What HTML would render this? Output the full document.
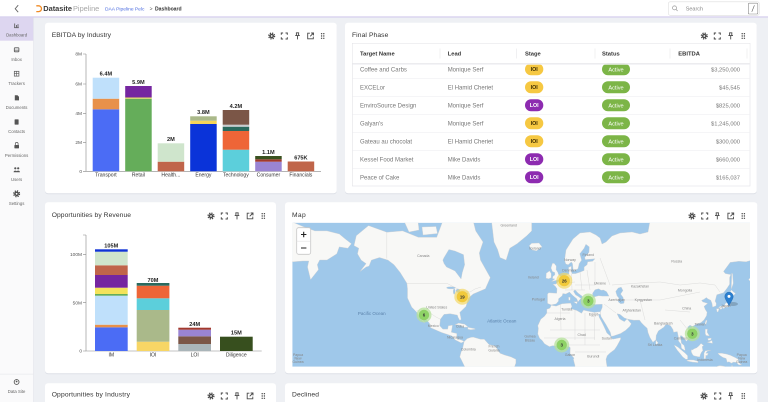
<!DOCTYPE html>
<html><head><meta charset="utf-8">
<style>
html,body{margin:0;padding:0;background:#eef0f4;overflow:hidden;}
svg{display:block;font-family:"Liberation Sans",Arial,sans-serif;}
text{font-family:"Liberation Sans",Arial,sans-serif;}
</style></head>
<body>
<svg width="768" height="402" viewBox="0 0 768 402" xmlns="http://www.w3.org/2000/svg">
<defs>
  <g id="gear"><circle r="2.9" fill="none" stroke="#4a4a4a" stroke-width="1.3" stroke-dasharray="1.2 1.08"/><circle r="2.3" fill="#4a4a4a"/><circle r="0.9" fill="#fff"/></g>
  <path id="fs" d="M-3,-1.2V-3H-1.2M1.2,-3H3V-1.2M3,1.2V3H1.2M-1.2,3H-3V1.2" stroke="#4a4a4a" stroke-width="1" fill="none"/>
  <path id="pin" d="M-1.6,-3.2H1.6M-1.1,-3.2V-0.6M1.1,-3.2V-0.6M-2.3,-0.4H2.3M0,-0.4V3.4" stroke="#4a4a4a" stroke-width="0.9" fill="none"/>
  <path id="ex" d="M-0.6,-2.8H-2.8V2.8H2.8V0.6M0.6,-3H3V-0.6M3,-3L-0.3,0.3" stroke="#4a4a4a" stroke-width="0.9" fill="none"/>
  <g id="dr" fill="#4a4a4a"><circle cx="-1.1" cy="-2.3" r="0.7"/><circle cx="1.1" cy="-2.3" r="0.7"/><circle cx="-1.1" cy="0" r="0.7"/><circle cx="1.1" cy="0" r="0.7"/><circle cx="-1.1" cy="2.3" r="0.7"/><circle cx="1.1" cy="2.3" r="0.7"/></g>
  <clipPath id="mapclip"><rect x="292.3" y="222.7" width="457.7" height="144"/></clipPath>
</defs>

<!-- background -->
<rect x="0" y="0" width="768" height="402" fill="#eef0f4"/>

<!-- header -->
<rect x="0" y="0" width="768" height="16.6" fill="#ffffff"/>
<rect x="0" y="16.5" width="768" height="0.9" fill="#c9bfe9"/>
<path d="M18.2,5.2L15.2,8.7L18.2,12.2" stroke="#666" stroke-width="0.9" fill="none"/>
<path d="M36.3,5.8H38.6A2.9,2.9 0 0 1 38.6,11.6H36.3" stroke="#f08a24" stroke-width="1.3" fill="none"/>
<text x="43.3" y="11.2" font-size="7.4" font-weight="bold" fill="#3a3a3a" textLength="28.7">Datasite</text>
<text x="73" y="11.2" font-size="7.4" fill="#a8a8a8" textLength="26.3">Pipeline</text>
<text x="105" y="10.5" font-size="4.9" fill="#4a6be0">DAA Pipeline Pelc</text>
<text x="149.6" y="10.5" font-size="5" fill="#555">&gt;</text>
<text x="155" y="10.5" font-size="5.1" font-weight="bold" fill="#333">Dashboard</text>
<!-- search -->
<rect x="668.3" y="1.8" width="91" height="13.5" rx="2" fill="#fff" stroke="#dedede" stroke-width="0.6"/>
<circle cx="674.5" cy="7.9" r="2" fill="none" stroke="#999" stroke-width="0.7"/>
<path d="M676,9.4L677.6,11" stroke="#999" stroke-width="0.7" fill="none"/>
<text x="685.7" y="10.5" font-size="5.5" fill="#888">Search</text>
<rect x="748.3" y="3.2" width="9.5" height="10.8" rx="1" fill="#fff" stroke="#888" stroke-width="0.6"/>
<path d="M754.4,5.3L751.8,11.8" stroke="#555" stroke-width="0.6" fill="none"/>

<!-- sidebar -->
<rect x="0" y="17.4" width="33.3" height="385" fill="#fafafb"/>
<rect x="33.3" y="17.4" width="0.6" height="385" fill="#e4e5ea"/>
<rect x="0" y="17.4" width="33.3" height="23.3" fill="#ddd6f0"/>
<g fill="#555">
  <rect x="14.3" y="23.5" width="0.8" height="4.5"/><rect x="14.3" y="27.3" width="4.5" height="0.8"/><rect x="16" y="25" width="0.8" height="2.3"/><rect x="17.6" y="24.2" width="0.8" height="3.1"/>
  <rect x="14.3" y="47.8" width="4.6" height="4" rx="0.6" fill="none" stroke="#555" stroke-width="0.8"/><rect x="14.3" y="49.8" width="4.6" height="0.7"/>
  <rect x="14.3" y="71.3" width="4.6" height="4.8" fill="none" stroke="#555" stroke-width="0.7"/><rect x="14.3" y="73.4" width="4.6" height="0.6"/><rect x="16.3" y="71.3" width="0.6" height="4.8"/>
  <path d="M14.8,95.3H17.5L19,96.8V100.4H14.8Z"/>
  <rect x="14.6" y="119.4" width="4" height="5.2" rx="0.5"/>
  <rect x="14.4" y="145" width="4.6" height="3.4" rx="0.5"/><path d="M15.3,145V143.8A1.4,1.4 0 0 1 18.1,143.8V145" stroke="#555" stroke-width="0.7" fill="none"/>
  <circle cx="15.3" cy="168.3" r="1.1"/><circle cx="18.2" cy="168.3" r="1.1"/><path d="M13.6,172.3A1.7,1.7 0 0 1 17,172.3ZM16.5,172.3A1.7,1.7 0 0 1 19.9,172.3Z"/>
</g>
<use href="#gear" x="16.6" y="193.8"/>
<g font-size="4.3" fill="#666" text-anchor="middle">
  <text x="16.6" y="36.5">Dashboard</text>
  <text x="16.6" y="60.8">Inbox</text>
  <text x="16.6" y="84.8">Trackers</text>
  <text x="16.6" y="108.8">Documents</text>
  <text x="16.6" y="132.8">Contacts</text>
  <text x="16.6" y="156.8">Permissions</text>
  <text x="16.6" y="180.8">Users</text>
  <text x="16.6" y="204.8">Settings</text>
  <text x="16.6" y="393.2">Data Site</text>
</g>
<rect x="0" y="373.8" width="33.3" height="0.6" fill="#e4e5ea"/>
<circle cx="16.6" cy="382" r="2.4" fill="none" stroke="#555" stroke-width="0.9"/>
<circle cx="16.6" cy="381.5" r="0.9" fill="#555"/>

<!-- ===== Panel: EBITDA by Industry ===== -->
<rect x="45" y="23.7" width="291.7" height="170.6" rx="3" fill="#dde0e7"/>
<rect x="45" y="22.7" width="291.7" height="170.6" rx="3" fill="#ffffff"/>
<text x="51.7" y="36.8" font-size="6.7" fill="#333" textLength="59.3">EBITDA by Industry</text>
<use href="#gear" x="271.7" y="36"/><use href="#fs" x="284.3" y="36"/><use href="#pin" x="297.5" y="36"/><use href="#ex" x="310.5" y="36"/><use href="#dr" x="322.7" y="36"/>
<g stroke="#888" stroke-width="0.6" fill="none">
  <path d="M86,54V171.3H321"/>
  <path d="M83,54H86M83,84H86M83,113.3H86M83,142.3H86M83,171.3H86"/>
</g>
<g font-size="4.8" fill="#555" text-anchor="end">
  <text x="82" y="55.7">8M</text><text x="82" y="85.7">6M</text><text x="82" y="115">4M</text><text x="82" y="144">2M</text><text x="82" y="173">0</text>
</g>
<g>
  <rect x="92.7" y="109.3" width="26.5" height="62" fill="#4b6cf5"/>
  <rect x="92.7" y="98.7" width="26.5" height="10.6" fill="#e8914a"/>
  <rect x="92.7" y="77.7" width="26.5" height="21" fill="#bfe0fb"/>

  <rect x="125.2" y="98.7" width="26.5" height="72.6" fill="#65ad5a"/>
  <rect x="125.2" y="97.5" width="26.5" height="1.2" fill="#e6df66"/>
  <rect x="125.2" y="86" width="26.5" height="11.5" fill="#7526a0"/>

  <rect x="157.7" y="161.7" width="26.5" height="9.6" fill="#c0654a"/>
  <rect x="157.7" y="143.3" width="26.5" height="18.4" fill="#cfe5cc"/>

  <rect x="190.2" y="124" width="26.5" height="47.3" fill="#0a33d9"/>
  <rect x="190.2" y="120.7" width="26.5" height="3.3" fill="#f5d55a"/>
  <rect x="190.2" y="116.3" width="26.5" height="4.4" fill="#aab98a"/>

  <rect x="222.7" y="149.7" width="26.5" height="21.6" fill="#5ccfdb"/>
  <rect x="222.7" y="131" width="26.5" height="18.7" fill="#ee6537"/>
  <rect x="222.7" y="126.7" width="26.5" height="4.3" fill="#2a6a5e"/>
  <rect x="222.7" y="124.7" width="26.5" height="2" fill="#c8cccf"/>
  <rect x="222.7" y="110" width="26.5" height="14.7" fill="#7b5647"/>

  <rect x="255.2" y="161.7" width="26.5" height="9.6" fill="#9a84d3"/>
  <rect x="255.2" y="159.3" width="26.5" height="2.4" fill="#a2392d"/>
  <rect x="255.2" y="156" width="26.5" height="3.3" fill="#3a5220"/>

  <rect x="287.7" y="161.5" width="26.5" height="9.8" fill="#c0654a"/>
</g>
<g font-size="5.6" font-weight="bold" fill="#222" text-anchor="middle">
  <text x="105.9" y="75.6">6.4M</text>
  <text x="138.4" y="84">5.9M</text>
  <text x="170.9" y="141">2M</text>
  <text x="203.4" y="114">3.8M</text>
  <text x="235.9" y="108.2">4.2M</text>
  <text x="268.4" y="154">1.1M</text>
  <text x="300.9" y="159.6">675K</text>
</g>
<g font-size="5.1" fill="#333" text-anchor="middle">
  <text x="105.9" y="176.6">Transport</text>
  <text x="138.4" y="176.6">Retail</text>
  <text x="170.9" y="176.6">Health...</text>
  <text x="203.4" y="176.6">Energy</text>
  <text x="235.9" y="176.6">Technology</text>
  <text x="268.4" y="176.6">Consumer</text>
  <text x="300.9" y="176.6">Financials</text>
</g>

<!-- ===== Panel: Final Phase ===== -->
<rect x="345" y="23.7" width="411.7" height="170.6" rx="3" fill="#dde0e7"/>
<rect x="345" y="22.7" width="411.7" height="170.6" rx="3" fill="#ffffff"/>
<text x="352" y="36.8" font-size="6.7" fill="#333" textLength="36.3">Final Phase</text>
<use href="#gear" x="704.3" y="36"/><use href="#fs" x="717.3" y="36"/><use href="#pin" x="730.7" y="36"/><use href="#dr" x="743.3" y="36"/>
<rect x="352.3" y="43.3" width="397.7" height="142.7" fill="#fff" stroke="#e2e2e6" stroke-width="0.6"/>
<g stroke="#efeff2" stroke-width="0.6" fill="none">
  <path d="M352.3,78.7H750M352.3,96.7H750M352.3,114.7H750M352.3,132.7H750M352.3,150.7H750M352.3,168.7H750"/>
</g>
<g font-size="6" fill="#777">
  <text x="360" y="71.4">Coffee and Carbs</text>
  <text x="360" y="89.4">EXCELor</text>
  <text x="360" y="107.4">EnviroSource Design</text>
  <text x="360" y="125.4">Galyan's</text>
  <text x="360" y="143.4">Gateau au chocolat</text>
  <text x="360" y="161.4">Kessel Food Market</text>
  <text x="360" y="179.4">Peace of Cake</text>
  <text x="447.7" y="71.4">Monique Serf</text>
  <text x="447.7" y="89.4">El Hamid Cheriet</text>
  <text x="447.7" y="107.4">Monique Serf</text>
  <text x="447.7" y="125.4">Monique Serf</text>
  <text x="447.7" y="143.4">El Hamid Cheriet</text>
  <text x="447.7" y="161.4">Mike Davids</text>
  <text x="447.7" y="179.4">Mike Davids</text>
</g>
<g font-size="5.8" fill="#777" text-anchor="end">
  <text x="740" y="71.4">$3,250,000</text>
  <text x="740" y="89.4">$45,545</text>
  <text x="740" y="107.4">$825,000</text>
  <text x="740" y="125.4">$1,245,000</text>
  <text x="740" y="143.4">$300,000</text>
  <text x="740" y="161.4">$660,000</text>
  <text x="740" y="179.4">$165,037</text>
</g>
<g>
  <rect x="525" y="63.3" width="18.3" height="12" rx="6" fill="#f6c842"/>
  <rect x="525" y="81.3" width="18.3" height="12" rx="6" fill="#f6c842"/>
  <rect x="525" y="99.3" width="18.3" height="12" rx="6" fill="#8d2bb0"/>
  <rect x="525" y="117.3" width="18.3" height="12" rx="6" fill="#f6c842"/>
  <rect x="525" y="135.3" width="18.3" height="12" rx="6" fill="#f6c842"/>
  <rect x="525" y="153.3" width="18.3" height="12" rx="6" fill="#8d2bb0"/>
  <rect x="525" y="171.3" width="18.3" height="12" rx="6" fill="#8d2bb0"/>
  <rect x="602" y="63.3" width="28" height="12" rx="6" fill="#7cb547"/>
  <rect x="602" y="81.3" width="28" height="12" rx="6" fill="#7cb547"/>
  <rect x="602" y="99.3" width="28" height="12" rx="6" fill="#7cb547"/>
  <rect x="602" y="117.3" width="28" height="12" rx="6" fill="#7cb547"/>
  <rect x="602" y="135.3" width="28" height="12" rx="6" fill="#7cb547"/>
  <rect x="602" y="153.3" width="28" height="12" rx="6" fill="#7cb547"/>
  <rect x="602" y="171.3" width="28" height="12" rx="6" fill="#7cb547"/>
</g>
<g font-size="5.3" font-weight="bold" text-anchor="middle">
  <text x="534.2" y="71.2" fill="#3a2a00">IOI</text>
  <text x="534.2" y="89.2" fill="#3a2a00">IOI</text>
  <text x="534.2" y="107.2" fill="#fff">LOI</text>
  <text x="534.2" y="125.2" fill="#3a2a00">IOI</text>
  <text x="534.2" y="143.2" fill="#3a2a00">IOI</text>
  <text x="534.2" y="161.2" fill="#fff">LOI</text>
  <text x="534.2" y="179.2" fill="#fff">LOI</text>
</g>
<g font-size="5.6" fill="#fff" text-anchor="middle">
  <text x="616" y="71.3">Active</text><text x="616" y="89.3">Active</text><text x="616" y="107.3">Active</text><text x="616" y="125.3">Active</text><text x="616" y="143.3">Active</text><text x="616" y="161.3">Active</text><text x="616" y="179.3">Active</text>
</g>
<rect x="352.6" y="43.6" width="397.1" height="19.7" fill="#fff"/>
<rect x="352.6" y="63.3" width="397.1" height="0.8" fill="#e4e4e8"/>
<rect x="352.6" y="64.1" width="397.1" height="0.7" fill="#f1f1f4"/>
<g stroke="#e6e6ea" stroke-width="0.6" fill="none">
  <path d="M440,48.5V58.5M516.7,48.5V58.5M595,48.5V58.5M670,48.5V58.5M747,48.5V58.5"/>
</g>
<g font-size="5.8" font-weight="bold" fill="#333">
  <text x="360" y="55.7">Target Name</text>
  <text x="447.7" y="55.7">Lead</text>
  <text x="525" y="55.7">Stage</text>
  <text x="602" y="55.7">Status</text>
  <text x="678.3" y="55.7">EBITDA</text>
</g>

<!-- ===== Panel: Opportunities by Revenue ===== -->
<rect x="45" y="203.3" width="231" height="171" rx="3" fill="#dde0e7"/>
<rect x="45" y="202.3" width="231" height="171" rx="3" fill="#ffffff"/>
<text x="51.7" y="216.8" font-size="6.7" fill="#333" textLength="79.3">Opportunities by Revenue</text>
<use href="#gear" x="211" y="216"/><use href="#fs" x="224.3" y="216"/><use href="#pin" x="237" y="216"/><use href="#ex" x="250" y="216"/><use href="#dr" x="263.3" y="216"/>
<g stroke="#888" stroke-width="0.6" fill="none">
  <path d="M86,235V351H261.7"/>
  <path d="M83,235H86M83,254.3H86M83,302.7H86M83,351H86"/>
</g>
<g font-size="4.8" fill="#555" text-anchor="end">
  <text x="82" y="256">100M</text><text x="82" y="304.4">50M</text><text x="82" y="352.7">0</text>
</g>
<g>
  <rect x="95" y="327.3" width="32.7" height="23.7" fill="#4b6cf5"/>
  <rect x="95" y="324.7" width="32.7" height="2.6" fill="#e8914a"/>
  <rect x="95" y="295.7" width="32.7" height="29" fill="#bfe0fb"/>
  <rect x="95" y="294" width="32.7" height="1.7" fill="#65ad5a"/>
  <rect x="95" y="287.7" width="32.7" height="6.3" fill="#f4e35a"/>
  <rect x="95" y="275" width="32.7" height="12.7" fill="#7526a0"/>
  <rect x="95" y="265.3" width="32.7" height="9.7" fill="#c0654a"/>
  <rect x="95" y="251.7" width="32.7" height="13.6" fill="#cfe5cc"/>
  <rect x="95" y="249.3" width="32.7" height="2.4" fill="#1034d6"/>

  <rect x="136.7" y="341.7" width="32.7" height="9.3" fill="#f7d665"/>
  <rect x="136.7" y="310" width="32.7" height="31.7" fill="#aab98a"/>
  <rect x="136.7" y="298.3" width="32.7" height="11.7" fill="#5ccfdb"/>
  <rect x="136.7" y="285.7" width="32.7" height="12.6" fill="#ee6537"/>
  <rect x="136.7" y="283" width="32.7" height="2.7" fill="#2a6a5e"/>

  <rect x="178.3" y="344" width="32.7" height="7" fill="#aab5b9"/>
  <rect x="178.3" y="336.3" width="32.7" height="7.7" fill="#7b5647"/>
  <rect x="178.3" y="329.7" width="32.7" height="6.6" fill="#9a84d3"/>
  <rect x="178.3" y="327.7" width="32.7" height="2" fill="#a2392d"/>

  <rect x="220" y="336.7" width="32.7" height="14.3" fill="#374f1e"/>
</g>
<g font-size="5.6" font-weight="bold" fill="#222" text-anchor="middle">
  <text x="111.3" y="247.7">105M</text>
  <text x="153" y="282">70M</text>
  <text x="194.7" y="326">24M</text>
  <text x="236.3" y="334.7">15M</text>
</g>
<g font-size="5.1" fill="#333" text-anchor="middle">
  <text x="111.3" y="356.6">IM</text>
  <text x="153" y="356.6">IOI</text>
  <text x="194.7" y="356.6">LOI</text>
  <text x="236.3" y="356.6">Diligence</text>
</g>

<!-- ===== Panel: Map ===== -->
<rect x="285" y="203.3" width="472.3" height="171" rx="3" fill="#dde0e7"/>
<rect x="285" y="202.3" width="472.3" height="171" rx="3" fill="#ffffff"/>
<text x="292" y="216.8" font-size="6.7" fill="#333" textLength="13.7">Map</text>
<use href="#gear" x="692" y="216"/><use href="#fs" x="704.7" y="216"/><use href="#pin" x="717.3" y="216"/><use href="#ex" x="730.7" y="216"/><use href="#dr" x="743.3" y="216"/>

<g clip-path="url(#mapclip)">
  <rect x="292.3" y="222.7" width="457.7" height="144" fill="#9fc8ea"/>
  <g fill="#f8f8f6" stroke="#cfcfcf" stroke-width="0.35" stroke-linejoin="round">
    <polygon points="290,221 302.7,226.4 314.9,230.9 327,230.9 339.3,234 345.3,239 351.4,243.7 347.8,248.2 339.3,246.9 336.8,253.8 327,260 319.7,260 317.3,264.7 318.5,269.6 310.6,279.6 307.5,267 308.8,261 302.7,261 290,262"/>
    <polygon points="354,245.6 356.3,235.7 368.5,225.6 386.8,232.2 402.6,230.9 418.4,237.3 436.7,237.3 442.8,221 473.2,221 475.7,230.9 483,242 479.3,253 480.5,260.1 490.3,277.6 485.4,288.8 473.2,294 468.4,298 466,306.4 459.8,312.4 461.1,319.2 459.8,320.5 458,317.1 457.4,315.1 450.1,313.7 444,314.4 440.4,319.2 439.7,325.8 442.8,329.1 447.7,329.1 448.3,325.8 452.5,325.2 451.3,332.2 456.8,333.5 456.8,338.6 462.3,340.4 464.1,341.6 461.1,342.9 455,339.8 452,336 446.5,334.1 441.6,332.5 430.6,327.7 429.4,323.2 422.1,314.4 419.1,312 421.5,316.7 424.5,323.2 419.1,316.4 416.6,312 411.7,307.1 407.5,298 407.5,288.8 406.9,283.3 400.2,272.5 394,264.7 388,260.1 379.5,257.5 371.4,260.1 369,266.1 366.1,267 360,271.5 366.1,263.6 361.2,260.1 357.5,253.8 358.8,248.2"/>
    <polygon points="404,221 418,221 419,230 409,232"/>
    <polygon points="422,227 436,226.5 437.5,233.5 423,235"/>
    <polygon points="491.5,221 531.7,221 531.7,230.9 526.8,235.7 517.1,243.7 509.8,248.2 506.1,260.1 500,257.5 497.6,249.5 494,242 492.7,230.9"/>
    <polygon points="529.3,245.6 531.7,243.3 539,243 542,246.9 536.6,250.8 531.7,249.9"/>
    <polygon points="455,324.7 458.6,323.1 464.7,324.2 468.1,326.9 464.1,327.4 459.8,325.1"/>
    <polygon points="467.8,327.3 475.1,328.7 475.1,329.3 470.8,329.7 467.9,329.3"/>
    <polygon points="464.1,341.6 467.2,338.6 470.8,337.4 473.2,337.1 480.5,339.2 484.2,339.2 489.1,344.6 495.2,345.9 497.6,349.6 500,353.2 504.9,355.1 511,356.9 515.9,359.3 515.9,363 513.4,370 464.7,370 464.7,366.7 461.1,359.3 459.8,356.9 461.1,352 462.3,349.6 463.5,344.6"/>
    <polygon points="547.5,294 547.5,300.3 547.5,303.4 551.2,304.9 556.1,303.9 558.5,301.1 558.5,298.8 562.2,295.7 562.8,293.5 565.8,294 569.5,292 571.3,294 573.1,295.7 576.8,298.8 578,301.9 579.2,300.3 581,298.5 578,296.3 575.6,294.9 573.5,291.4 575,289.7 578,293 582.3,296.3 582.3,299.6 584.7,303.4 586.5,304.2 586.5,301.9 587.7,298 590.2,297.5 593.8,297.2 590.8,299.6 592,303.4 595,304.5 602.3,304.2 602.3,307.1 601.1,310.2 600.3,311.9 600.5,314.4 601.1,316.7 606,324.6 610.3,332.2 611.2,336.3 613.3,336 620.6,333.5 625.5,330.4 629.7,326.5 631.3,323.8 627.1,318.9 624.3,321.6 621.2,319.9 619.4,318.6 617,313.7 620,314.4 624.3,317.9 627.9,319.2 634,320.2 639.5,320.1 641.3,322.6 644.4,325.8 647.2,328.3 648,332.5 649.9,337.4 652.9,342.2 655.9,339.8 656.2,335.4 658.4,330.9 663.9,327.1 665.7,324.6 668.1,324.6 670.6,325.8 673,329.6 673.6,332.2 677.3,331.6 678.5,337.4 678.5,341 681,344.1 681.5,348.3 684.6,350.4 685.2,350.2 684.6,347.1 684,345.3 681.5,343.4 680.3,336.1 680.9,335.4 682.7,336.7 686.4,341.2 688.2,339.2 691.3,337.7 691.3,333.5 688.2,329.6 687.6,327.1 690,325.2 692.5,326.5 696.1,324.2 701,322.6 704,319.9 706.5,315.8 707.1,312.3 705.3,309.5 704,306.4 707.7,303.4 702.8,301.9 701.6,300.3 703.4,299.6 706.5,297.5 707.7,298.8 710.8,300.3 712,303.4 712.6,307.1 716,305.9 716.3,303.4 715.1,301.1 716.8,294.7 719.3,294 723.5,292.8 727.2,288 729.6,284.3 729.6,277.6 730.8,274.6 725.4,273.6 723.5,271.5 730.2,262.4 738.8,261.3 746.1,261.8 752,260.1 752,221 650,221 648,232 640,234 632,232 620,233 612,236 606,242 602,244 600,238 596,235 590,232 580,233 573,239 566,250 564.6,260.1 565.8,264 568.2,264.7 571.3,262 572.5,263.6 573.1,269.3 574.3,270.7 578,268.7 579.2,263.6 581.6,260.1 579.8,253.8 584.1,248.2 585.9,244.3 589.3,246.9 589,252.3 584.7,257.5 585.3,259.6 595,258.8 592.6,261.3 587.7,261.8 587.1,264.7 584.1,267 584.1,270.5 580.4,272 575.6,273.6 571.9,273.6 571.3,271 571.3,266.1 568.5,267.5 568.9,271.5 569,274 567,274.6 564.6,275.2 563.4,278.2 560.7,279.6 557.3,282.5 556.1,284 552.9,284.3 555.5,286.4 557,288.8 556.7,293.2 548.8,292.8"/>
    <polygon points="551.2,305.2 556.1,306.1 562.2,303.7 570.7,303.1 571.9,306.4 570.7,308.6 576.8,310.5 581.6,313.3 583.5,310.1 589,311.4 594.4,312.4 597.9,311.9 600.3,311.9 600.5,314.4 598.2,314 599.3,317.5 601.7,321.9 603.6,325.8 605.4,329.6 606.8,332.9 610.3,336 611.2,337.6 612.7,339.2 620.6,337.6 620.6,339.2 617,345.9 614.5,349.6 609.7,353.2 607.2,355.7 606,359.3 606.6,364.2 607.8,370 574.3,370 575,365.5 574.3,363 573.4,359.3 574,358.1 570.1,353.8 570.1,350.8 570.3,347.7 569.1,346.5 565.8,346.8 564.6,345.3 561,344.3 556.1,346.1 553,345.6 549.4,346.6 544.5,343.7 542.1,340.4 539.6,338.3 537.8,333.9 538.4,328.4 537.8,325.8 540.8,319.2 544.5,316.2 546.9,313 546.8,309.3 550,308.1"/>
    <polygon points="551.6,281.5 560.3,279.3 560.6,276.4 558.5,274.6 557.9,272.5 556.1,269.7 556.3,266.1 554.2,263.4 552.4,263.4 551,268 552.4,271.5 554.8,272.5 554.8,275 553,276.2 552.4,278.5 554.8,279 551.8,281.3"/>
    <polygon points="551.2,277.6 551.2,273.6 549.6,270.9 546.3,273.2 546,278.2 548.8,278.8"/>
    <polygon points="573.7,301.9 577.5,301.6 576.8,303.9"/>
    <polygon points="568.5,297.2 570.3,297.2 570.1,300.3 568.7,300.3"/>
    <polygon points="655.9,340 658.1,342.9 656.5,344.6 655.8,343.5"/>
    <polygon points="674.5,345.1 677.9,347.1 680.9,349.6 685.2,353.2 687.6,355.7 687.6,359.3 685.8,359.2 682.7,356.9 680.3,353.8 677.3,350.2 674.5,345.9"/>
    <polygon points="686.7,360.3 690,359.9 693.7,360 698,361.3 698,362.6 692.5,362.1 687.6,361.1"/>
    <polygon points="691.3,349.8 692.5,349.9 694.3,348.7 696.8,347.7 699.2,345.6 701,343.4 703.7,345.6 702.2,346.5 702.8,350.8 701.6,352 700.4,354.4 699.8,356.9 698,356.7 693.7,355.7 692.5,354.4 691.3,352"/>
    <polygon points="704,358.7 704,353.2 705.3,350.8 710.8,350.2 707.1,351.4 705.9,353.2 708.3,353.2 707.1,355.7 705.9,355.1 705.5,358.7"/>
    <polygon points="705.3,329.1 707.5,329.1 707.1,332.2 709.5,336 705.9,335.4 705.3,333.5"/>
    <polygon points="707.7,338.6 711.4,338 710.8,340 708.3,340.4"/>
    <polygon points="707.1,342.2 712.6,343.4 712,340.4 709.5,341.6"/>
    <polygon points="704.9,323.6 705.9,320.3 707.1,320.5 705.9,324.6"/>
    <polygon points="690.9,328.3 693.1,327.1 693.7,329.1 691.9,329.5"/>
    <polygon points="718.1,353.2 721.7,353.2 726.6,354.1 730.2,355.2 735.1,357.5 738.2,359.3 738.8,362.4 740.6,364.2 741.8,364.9 738.8,364.9 736.3,362.4 733.3,362.1 731.5,363.2 729,361.8 727.2,362.2 726.2,358.5 722.9,357.4 719.9,355.4 718.1,353.8"/>
    <polygon points="716,369 717,366.3 719.9,365.6 724.7,366.3 726,369"/>
    <polygon points="730.6,369 732,365 733.6,369"/>
    <polygon points="717.9,308.6 719.9,306.4 724.1,306.2 725.4,303.4 728.4,301.9 729,298 730.8,296.5 731.5,299.6 730.2,302.6 730,305.4 728.8,306.4 727.6,307.1 725.4,307.1 723.5,308.7 722.9,307.1 720.5,307.5 718.1,308.1"/>
    <polygon points="716.4,308.7 719.1,308.7 718.1,311.9 717.1,311.9"/>
    <polygon points="719.9,308.3 722.3,307.6 721.7,309 719.9,309.4"/>
    <polygon points="729,295.7 729.6,293.5 731.2,289.9 733.9,292.3 735.6,293.5 733.2,295.7 730.2,296"/>
    <polygon points="731.5,288.8 733.3,283.3 732.5,273.6 731.7,273.2 731.5,281.5 731.3,288"/>
    <polygon points="748.5,279.6 752,276 752,283"/>
  </g>
  <g fill="#9fc8ea" stroke="#cfcfcf" stroke-width="0.3">
    <polygon points="442.8,260.1 444,263.5 446.5,267 455,271 461.1,279 462.3,272.6 464.7,264.7 463.5,254.6 455,251 448.9,249.5 444,257.6"/>
    <polygon points="592.6,296.3 592.6,293.2 595,289.7 598.7,288.8 601.1,290.2 603.6,290 606.6,291.7 609,296.1 602.3,296.1 598.7,295.7 593.8,297"/>
    <polygon points="615.7,291.4 618.2,288 621.2,287.1 623,290.5 620.6,294 623,297.2 624.3,301.9 623.7,303.4 620.6,303.7 618.2,301.9 618.8,298 617,295.7"/>
    <ellipse cx="451" cy="287.8" rx="4.5" ry="1.1"/>
    <ellipse cx="454.2" cy="291.5" rx="1" ry="2.8"/>
    <ellipse cx="458" cy="290.8" rx="2" ry="1.8"/>
    <ellipse cx="462" cy="295.3" rx="2.8" ry="0.8"/>
    <ellipse cx="466" cy="293.4" rx="2.2" ry="0.7"/>
  </g>
  <g fill="none" stroke="#d0d0d0" stroke-width="0.35">
    <path d="M386.8,232.2V258.5"/>
    <path d="M406.9,283.3H447L452,286L458,289L464,291L470,292L475,289L481,287"/>
    <path d="M416.6,310.5L422,311.5L430,313L436,317L440.4,319.2"/>
    <path d="M547,313L570,313M560.5,304L561,330M575,310L575,340M585,313L585,345M594.4,312.4V340M550,330L600,330M544,338L595,338M565,345L600,345M575,352L606,352"/>
    <path d="M563,283L575,282M571.5,274L572,290M580,272L582,290M587,270L590,290M595,262L595,285M575,285L595,285M565,290L585,290"/>
    <path d="M612,285L640,283L660,282L680,285L700,283L715,285L720,292M600,258L610,285M625,300L660,300M640,300L645,320M660,300L700,292M665,310L690,312M680,320L688,330M604,304L616,313"/>
  </g>
  <g font-size="3.5" fill="#858585" text-anchor="middle">
    <text x="508.7" y="226.5">Greenland</text>
    <text x="535" y="249.5">Iceland</text>
    <text x="423.3" y="257">Canada</text>
    <text x="436.7" y="308.5">United States</text>
    <text x="433.3" y="327">Mexico</text>
    <text x="460" y="327.7">Cuba</text>
    <text x="455" y="338.7">Nicaragua</text>
    <text x="468.3" y="350.3">Colombia</text>
    <text x="494" y="347.7">French</text>
    <text x="494" y="351.5">Guiana</text>
    <text x="298" y="356">Papua</text><text x="298" y="359.5">New</text><text x="298" y="363">Guinea</text>
    <text x="570" y="261">Norway</text>
    <text x="588.3" y="256">Finland</text>
    <text x="533.3" y="278.3">Ireland</text>
    <text x="569.3" y="271.7">Denmark</text>
    <text x="600" y="284.3">Ukraine</text>
    <text x="538.3" y="300.3">Portugal</text>
    <text x="616.7" y="301">Azerbaijan</text>
    <text x="640" y="287.7">Kazakhstan</text>
    <text x="643.3" y="301">Kyrgyzstan</text>
    <text x="685" y="291.7">Mongolia</text>
    <text x="676.7" y="262.7">Russia</text>
    <text x="686.7" y="309.3">China</text>
    <text x="725.7" y="307">Japan</text>
    <text x="566.7" y="310.3">Tunisia</text>
    <text x="560" y="320">Algeria</text>
    <text x="593.3" y="315.3">Egypt</text>
    <text x="631.7" y="311.7">Afghanistan</text>
    <text x="663.3" y="324.3">Bangladesh</text>
    <text x="700" y="325.3">Taiwan</text>
    <text x="581.7" y="336">Chad</text>
    <text x="606.7" y="339.3">Sudan</text>
    <text x="530" y="337.7">Guinea</text>
    <text x="530" y="341.7">Bissau</text>
    <text x="655" y="346">Sri Lanka</text>
    <text x="681.7" y="339.3">Cambodia</text>
    <text x="705" y="361">Indonesia</text>
    <text x="570" y="356">Gabon</text>
    <text x="593.3" y="357.7">Burundi</text>
    <text x="741.7" y="356">Papua</text><text x="741.7" y="359.5">New</text><text x="741.7" y="363">Guinea</text>
  </g>
  <g font-size="4.5" fill="#5b82ab" text-anchor="middle">
    <text x="371.7" y="314.8">Pacific Ocean</text>
    <text x="501.7" y="322.5">Atlantic Ocean</text>
  </g>
  <g font-size="4.4" fill="#333" text-anchor="middle" font-weight="bold">
    <circle cx="462.3" cy="296.7" r="8" fill="#f2d65c" fill-opacity="0.65"/><circle cx="462.3" cy="296.7" r="5.6" fill="#f1c93a"/><text x="462.3" y="298.3">19</text>
    <circle cx="564.3" cy="280.7" r="8" fill="#f2d65c" fill-opacity="0.65"/><circle cx="564.3" cy="280.7" r="5.6" fill="#f1c93a"/><text x="564.3" y="282.3">26</text>
    <circle cx="424" cy="315" r="7.5" fill="#b5e29a" fill-opacity="0.75"/><circle cx="424" cy="315" r="5.2" fill="#8ed266"/><text x="424" y="316.6">6</text>
    <circle cx="588.3" cy="301" r="7.5" fill="#b5e29a" fill-opacity="0.75"/><circle cx="588.3" cy="301" r="5.2" fill="#8ed266"/><text x="588.3" y="302.6">3</text>
    <circle cx="561.7" cy="345" r="7.5" fill="#b5e29a" fill-opacity="0.75"/><circle cx="561.7" cy="345" r="5.2" fill="#8ed266"/><text x="561.7" y="346.6">3</text>
    <circle cx="692.3" cy="333.7" r="7.5" fill="#b5e29a" fill-opacity="0.75"/><circle cx="692.3" cy="333.7" r="5.2" fill="#8ed266"/><text x="692.3" y="335.3">3</text>
  </g>
  <ellipse cx="733" cy="304" rx="5" ry="2" fill="#000" fill-opacity="0.18"/>
  <path d="M729,306 C727.5,302 724.8,299.5 724.8,296.3 A4.2,4.2 0 0 1 733.2,296.3 C733.2,299.5 730.5,302 729,306Z" fill="#2a7fd0" stroke="#1f64a8" stroke-width="0.4"/>
  <circle cx="729" cy="296.4" r="1.5" fill="#fff"/>
  <rect x="296.7" y="227.7" width="14" height="26.6" rx="2" fill="#fff" stroke="#c7c7c7" stroke-width="0.8"/>
  <rect x="296.7" y="240.9" width="14" height="0.5" fill="#ddd"/>
  <path d="M301,234.5H306.4M303.7,231.8V237.2" stroke="#222" stroke-width="1.1" fill="none"/>
  <path d="M301,248H306.4" stroke="#222" stroke-width="1.1" fill="none"/>
</g>

<!-- ===== Bottom panels ===== -->
<rect x="45" y="383.3" width="231" height="25" rx="3" fill="#ffffff"/>
<text x="51.7" y="396.4" font-size="6.7" fill="#333" textLength="78.3">Opportunities by Industry</text>
<use href="#gear" x="211" y="396"/><use href="#fs" x="224.3" y="396"/><use href="#pin" x="237" y="396"/><use href="#ex" x="250" y="396"/><use href="#dr" x="263.3" y="396"/>

<rect x="285" y="383.3" width="472.3" height="25" rx="3" fill="#ffffff"/>
<text x="292" y="396.4" font-size="6.7" fill="#333" textLength="27">Declined</text>
<use href="#gear" x="704" y="396"/><use href="#fs" x="717.7" y="396"/><use href="#pin" x="730.7" y="396"/><use href="#dr" x="743.3" y="396"/>
</svg>
</body></html>
